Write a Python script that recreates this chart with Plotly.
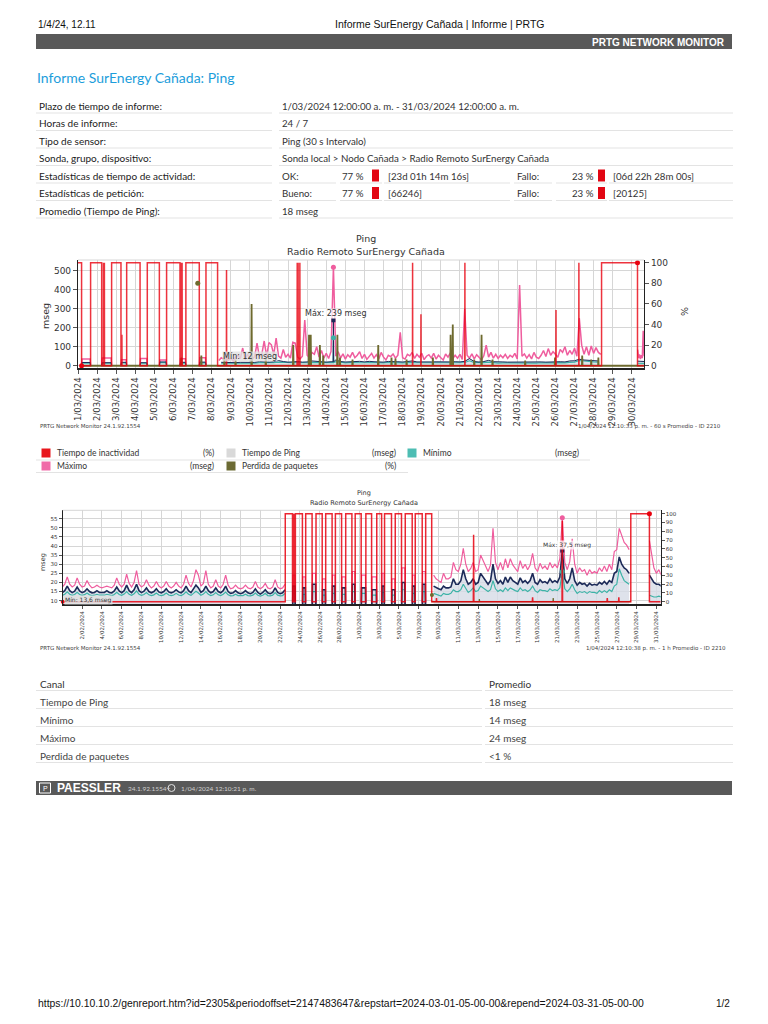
import pandas as pd
import plotly.graph_objects as go

W, H = 768, 1024
def X(px): return px / W
def Y(py): return 1 - py / H

F_UI = "Lato"
F_CH = "DejaVu Sans"
F_AR = "Liberation Sans"
C_RED = "#e8000e"
C_PINK = "#ef5d9e"
C_NAVY = "#1c2a58"
C_TEAL = "#3db3a7"
C_OLIVE = "#6e6a2e"
C_FILL = "rgba(214,219,230,0.8)"

# ---------------- DATA ----------------
# downtime intervals (Tiempo de inactividad = 100 %)
down_start = ["2024-02-22 12:30", "2024-02-23 13:00", "2024-02-24 14:00", "2024-02-25 15:00",
              "2024-02-26 14:30", "2024-02-27 14:00", "2024-02-28 15:00", "2024-02-29 14:00",
              "2024-03-01 15:50", "2024-03-02 18:15", "2024-03-03 13:10", "2024-03-04 15:05",
              "2024-03-05 15:20", "2024-03-06 15:35", "2024-03-07 16:50", "2024-03-28 10:00"]
down_end = ["2024-02-23 06:00", "2024-02-24 06:00", "2024-02-25 05:30", "2024-02-26 06:00",
            "2024-02-27 06:00", "2024-02-28 05:00", "2024-02-29 06:00", "2024-03-01 04:30",
            "2024-03-02 05:45", "2024-03-03 06:00", "2024-03-04 06:00", "2024-03-05 06:15",
            "2024-03-06 08:10", "2024-03-07 08:25", "2024-03-08 07:25", "2024-03-30 07:10"]

# short downtime spikes
c1_red_spike_t = ["2024-03-02 08:00", "2024-03-02 09:10", "2024-03-03 07:10", "2024-03-06 09:20",
                  "2024-03-06 10:50", "2024-03-08 18:40", "2024-03-12 11:30", "2024-03-12 12:40",
                  "2024-03-12 14:50", "2024-03-18 12:30", "2024-03-18 23:00", "2024-03-21 06:15",
                  "2024-03-26 00:45", "2024-03-27 05:30"]
c1_red_spike_v = [100, 100, 30, 100, 100, 93, 100, 100, 100, 100, 50, 100, 54, 100]
c2_red_spike_t = ["2024-02-23 08:00", "2024-02-23 10:00", "2024-03-08 19:00", "2024-03-12 13:00",
                  "2024-03-18 12:00", "2024-03-21 12:00", "2024-03-26 01:00", "2024-03-27 05:00"]
c2_red_spike_v = [100, 100, 4, 76, 5, 92, 4, 5]

# 1 h chart, continuous part in February (6 h samples)
feb_start = "2024-01-30 18:00"
feb_max = [18.0,
           17.5, 19.0, 23.0, 19.0, 17.5, 18.5, 22.5, 19.0, 17.5, 18.0, 21.0, 18.5,
           17.0, 17.5, 18.5, 17.5, 17.0, 17.5, 18.0, 17.5, 17.0, 18.5, 22.5, 19.0,
           17.5, 19.0, 24.5, 19.5, 17.5, 20.0, 26.5, 19.0, 17.5, 18.5, 21.5, 18.5,
           17.0, 18.0, 20.5, 18.0, 17.0, 18.0, 20.5, 18.0, 17.0, 18.0, 20.0, 18.0,
           17.0, 19.0, 24.0, 19.5, 17.5, 21.0, 27.0, 24.0, 18.0, 19.5, 26.5, 19.0,
           17.0, 18.0, 21.5, 18.0, 17.0, 19.0, 24.0, 18.5, 16.5, 17.0, 18.5, 17.0,
           16.5, 17.0, 18.5, 17.0, 16.5, 17.5, 20.5, 17.5, 16.5, 17.5, 19.5, 17.0,
           16.5, 17.5, 21.5, 17.5, 16.5, 17.0, 19.0]
feb_ping = [14.6,
            14.4, 15.5, 18.0, 15.5, 14.4, 15.2, 17.5, 15.3, 14.4, 15.0, 16.5, 15.0,
            14.3, 14.5, 15.5, 14.5, 14.3, 14.5, 15.5, 14.5, 14.3, 15.3, 17.5, 15.3,
            14.4, 15.5, 18.5, 15.5, 14.4, 16.0, 19.0, 15.5, 14.4, 15.2, 17.0, 15.0,
            14.3, 15.0, 16.5, 14.8, 14.3, 15.0, 16.5, 14.8, 14.3, 14.8, 16.0, 14.8,
            14.3, 15.5, 18.0, 15.5, 14.4, 16.5, 18.5, 17.0, 14.6, 15.5, 18.0, 15.5,
            14.3, 15.0, 17.0, 15.0, 14.3, 15.5, 18.0, 15.0, 14.0, 14.3, 15.5, 14.3,
            13.8, 14.3, 15.5, 14.3, 13.8, 14.5, 16.5, 14.5, 13.6, 14.5, 16.0, 14.3,
            13.8, 14.5, 17.0, 14.5, 13.8, 14.3, 16.0]
feb_min = [13.0,
           12.9, 13.5, 14.8, 13.5, 12.9, 13.4, 14.6, 13.4, 12.9, 13.3, 14.2, 13.2,
           12.8, 13.0, 13.5, 13.0, 12.8, 13.0, 13.5, 13.0, 12.8, 13.4, 14.6, 13.4,
           12.9, 13.6, 15.0, 13.5, 12.9, 13.8, 15.3, 13.5, 12.9, 13.4, 14.4, 13.2,
           12.8, 13.2, 14.2, 13.1, 12.8, 13.2, 14.2, 13.1, 12.8, 13.1, 14.0, 13.1,
           12.8, 13.5, 14.8, 13.5, 12.9, 14.0, 15.2, 14.2, 13.0, 13.6, 15.0, 13.5,
           12.8, 13.2, 14.4, 13.2, 12.8, 13.5, 14.7, 13.2, 12.6, 12.8, 13.5, 12.8,
           12.6, 12.8, 13.5, 12.8, 12.6, 13.0, 14.2, 13.0, 12.5, 13.0, 14.0, 12.8,
           12.6, 13.0, 14.4, 13.0, 12.6, 12.8, 14.0]

# 1 h chart, continuous part in March (6 h samples)
mar_start = "2024-03-08 12:00"
mar_max = [24, 22,
           21, 20, 25, 22, 22, 23, 31, 27, 26, 30, 38.7, 30, 26, 27.7, 31, 26,
           27, 35, 32, 29, 26, 29.6, 49.7, 31, 27, 31, 26.8, 33, 28, 33, 29.6, 27.7,
           26, 32, 27.7, 30, 27, 29.6, 36, 28, 26, 30.5, 27.7, 29, 27, 31, 28, 30,
           28, 33, 55.5, 31, 27, 31.4, 44, 30, 25, 28, 26, 27, 24, 27, 25, 26,
           25, 28, 26, 29, 26, 30, 27, 36.9, 38, 49.7, 46, 42,
           40.5, 38]
mar_ping = [18, 17,
            16.5, 16, 18, 17, 17, 17.5, 22, 19, 19, 21, 27, 22, 19, 20, 22, 19,
            20, 25, 23, 21, 19, 21, 30, 22, 19.5, 21, 19, 23, 20, 23, 21, 20,
            19, 22.5, 20, 21, 19.5, 21, 25, 20, 19, 21.5, 20, 20.5, 19.5, 22, 20, 21,
            20, 23, 37.5, 22, 19.5, 22, 28, 21, 18.5, 20, 19, 19.5, 18, 19.5, 18.5, 19,
            18.5, 20, 19, 20.5, 19, 21, 20, 25, 26, 34, 30, 28,
            27, 25]
mar_min = [14, 13.5,
           13, 12.5, 14, 13.5, 13.5, 14, 16, 15, 15, 16, 19, 17, 14.5, 15.5, 17, 15,
           15.5, 18, 17, 16, 15, 16, 21, 16.5, 15, 16, 15, 17, 15.5, 17, 16, 15.5,
           15, 17, 15.5, 16, 15, 16, 18, 15.5, 14.5, 16, 15.5, 15.5, 15, 16.5, 15.5, 16,
           15.5, 17, 25.9, 16.5, 15, 16.5, 19, 16, 14, 15, 14.5, 15, 14, 15, 14.5, 14.5,
           14, 15.5, 14.5, 15.5, 14.5, 16, 15, 18, 19, 27.5, 24, 21,
           20, 19]

# after the long outage
end_t = ["2024-03-30 07:10", "2024-03-30 12:00", "2024-03-30 18:00",
         "2024-03-31 00:00", "2024-03-31 06:00", "2024-03-31 12:00"]
end_max = [43, 35, 28, 25, 27, 24]
end_ping = [24, 22, 20, 19, 19, 18]
end_min = [13, 12.5, 12, 12, 12.5, 12]

# values during the short daily up-windows (23/02 .. 7/03)
win_max = [24, 23, 25, 22, 24, 23, 26, 24, 23, 25, 22, 28, 24, 26]
win_ping = [18, 17, 19, 16, 18, 17, 19, 17, 16, 18, 16, 20, 18, 19]
win_min = [14, 13.5, 15, 13, 14, 13.5, 15, 14, 13, 14.5, 13, 16, 14, 15]
c1_win_max = [35, 40, 32, 38, 30, 36, 42]   # 60 s chart, windows 1/03 .. 7/03

# 60 s chart: Máximo (3 h samples)
c1_max_start = "2024-03-08 09:00"
c1_max = [28, 42, 35, 50, 30, 38, 26, 45,
          55, 38, 93, 32, 60, 40, 35, 48,
          119, 45, 60, 130, 50, 122, 110, 58,
          145, 50, 40, 85, 45, 60, 40, 123,
          119, 45, 35, 50, 240, 55, 40, 70,
          60, 100, 45, 80, 40, 65, 38, 75,
          518, 50, 74, 40, 62, 35, 58, 45,
          70, 42, 55, 74, 38, 60, 33, 50,
          65, 40, 58, 36, 70, 45, 30, 55,
          48, 62, 40, 55, 176, 42, 35, 60,
          52, 70, 38, 60, 45, 66, 32, 50,
          58, 40, 65, 35, 55, 42, 30, 62,
          45, 68, 38, 55, 40, 60, 33, 300,
          55, 40, 62, 36, 58, 44, 30, 52,
          108, 45, 70, 40, 60, 38, 55, 42,
          60, 38, 55, 45, 65, 35, 425, 50,
          62, 40, 58, 36, 70, 45, 38, 55,
          80, 48, 90, 55, 74, 60, 45, 85,
          70, 100, 55, 80, 60, 92, 50, 250,
          108, 60, 100, 55, 104, 65, 95, 70,
          60]
c1_end_t = ["2024-03-30 07:20", "2024-03-30 08:30", "2024-03-30 09:40", "2024-03-30 10:50",
            "2024-03-30 12:00", "2024-03-30 13:10", "2024-03-30 14:20", "2024-03-30 15:30"]
c1_end_max = [85, 40, 60, 35, 55, 40, 184, 50]

# peaks (Máx markers)
c1_peak_t = "2024-03-14 09:00"
c1_peak_max, c1_peak_ping, c1_peak_min = 518, 239, 147
c1_peak_ping_base, c1_peak_min_base = 21, 16
c2_peak_t = "2024-03-21 12:00"
c2_peak_max, c2_peak_ping, c2_peak_min = 55.5, 37.5, 25.9

# packet loss (%)
c1_loss_t = ["2024-03-06 10:00", "2024-03-07 11:00", "2024-03-08 16:00", "2024-03-09 06:00",
             "2024-03-10 02:10", "2024-03-10 20:00", "2024-03-12 06:30", "2024-03-13 02:20",
             "2024-03-13 04:30", "2024-03-13 16:00", "2024-03-13 20:10", "2024-03-14 14:00",
             "2024-03-14 17:15", "2024-03-15 09:00", "2024-03-16 17:20", "2024-03-17 10:00",
             "2024-03-17 15:00", "2024-03-18 05:00", "2024-03-19 14:00", "2024-03-20 12:15",
             "2024-03-20 15:00", "2024-03-21 18:00", "2024-03-22 03:10", "2024-03-22 17:00",
             "2024-03-24 10:00", "2024-03-25 23:30", "2024-03-27 09:40", "2024-03-27 21:00",
             "2024-03-28 06:00"]
c1_loss_v = [8, 10, 9, 6, 60, 8, 20, 30, 30, 20, 10, 30, 8, 6, 20, 8, 7, 6, 8, 30, 40, 6, 30,
             6, 5, 8, 10, 6, 8]
c1_loss_dot = ("2024-03-07 06:30", 80)
c2_loss_t = ["2024-03-13 03:00", "2024-03-20 14:00"]
c2_loss_v = [3, 4]
c2_loss_dot = ("2024-03-08 08:00", 7.6)

# axis ranges
c1_x = ["2024-03-01 00:00", "2024-03-30 15:20"]
c2_x = ["2024-01-31 01:00", "2024-03-31 10:30"]

# text content
info_labels = ["Plazo de tiempo de informe:", "Horas de informe:", "Tipo de sensor:",
               "Sonda, grupo, dispositivo:", "Estadísticas de tiempo de actividad:",
               "Estadísticas de petición:", "Promedio (Tiempo de Ping):"]
info_values = ["1/03/2024 12:00:00 a. m. - 31/03/2024 12:00:00 a. m.", "24 / 7",
               "Ping (30 s Intervalo)",
               "Sonda local &gt; Nodo Cañada &gt; Radio Remoto SurEnergy Cañada",
               None, None, "18 mseg"]
stat_rows = [["OK:", "77 %", "[23d 01h 14m 16s]", "Fallo:", "23 %", "[06d 22h 28m 00s]"],
             ["Bueno:", "77 %", "[66246]", "Fallo:", "23 %", "[20125]"]]
chan_names = ["Tiempo de Ping", "Mínimo", "Máximo", "Perdida de paquetes"]
chan_avgs = ["18 mseg", "14 mseg", "24 mseg", "&lt;1 %"]

# ---------------- HELPERS ----------------
def T(s): return pd.Timestamp(s)
def iso(t): return None if t is None else T(t).strftime("%Y-%m-%d %H:%M:%S")
MINUTE = pd.Timedelta(minutes=1)

def regular(start, vals, freq):
    return list(pd.date_range(start, periods=len(vals), freq=freq)), list(vals)

def red_series(spike_t, spike_v, eps, t0, t1):
    ev = []
    if t0 is not None:
        ev.append((T(t0), 0))
    for s, e in zip(down_start, down_end):
        ev += [(T(s), 0), (T(s), 100), (T(e), 100), (T(e), 0)]
    for t, v in zip(spike_t, spike_v):
        ev += [(T(t) - eps, 0), (T(t), v), (T(t) + eps, 0)]
    ev.append((T(t1), 0))
    ev.sort(key=lambda p: p[0])
    return [iso(p[0]) for p in ev], [p[1] for p in ev]

def spikes(times, vals, eps, t0, t1):
    ev = [(T(t0), 0)]
    for t, v in zip(times, vals):
        ev += [(T(t) - eps, 0), (T(t), v), (T(t) + eps, 0)]
    ev.append((T(t1), 0))
    ev.sort(key=lambda p: p[0])
    return [iso(p[0]) for p in ev], [p[1] for p in ev]

def windows(vals, idx, pad):
    xs, ys = [], []
    for i, v in zip(idx, vals):
        s, e = T(down_end[i]), T(down_start[i + 1])
        xs += [s, s + pad, e - pad, e, None]
        ys += [0, v, v, 0, None]
    return xs, ys

def with_peak(xs, ys, t, v, base, eps):
    pts = list(zip(xs, ys)) + [(T(t) - eps, base), (T(t), v), (T(t) + eps, base)]
    pts.sort(key=lambda p: p[0])
    return [p[0] for p in pts], [p[1] for p in pts]

def join(*parts):
    xs, ys = [], []
    for px_, py_ in parts:
        if xs:
            xs.append(None); ys.append(None)
        xs += [iso(t) if t is not None else None for t in px_]
        ys += list(py_)
    return xs, ys

def segments(series):
    segs, cx, cy = [], [], []
    for x, y in zip(*series):
        if x is None or y is None:
            if cx:
                segs.append((cx, cy))
            cx, cy = [], []
        else:
            cx.append(x); cy.append(y)
    if cx:
        segs.append((cx, cy))
    return segs

# ---------------- SERIES ----------------
W1 = list(range(7, 14))
W2 = list(range(0, 14))
pad1 = 40 * MINUTE
pad2 = 60 * MINUTE

# chart 1 (60 s average)
c1_pink = join(windows(c1_win_max, W1, pad1), regular(c1_max_start, c1_max, "3h"),
               (c1_end_t, c1_end_max))
mx, my = regular(mar_start, mar_ping, "6h")
c1_navy = join(windows(win_ping[7:], W1, pad1),
               with_peak(mx, my, c1_peak_t, c1_peak_ping, c1_peak_ping_base, 20 * MINUTE),
               (end_t, end_ping))
nx, ny = regular(mar_start, mar_min, "6h")
c1_teal = join(windows(win_min[7:], W1, pad1),
               with_peak(nx, ny, c1_peak_t, c1_peak_min, c1_peak_min_base, 20 * MINUTE),
               (end_t, end_min))
c1_red = red_series(c1_red_spike_t, c1_red_spike_v, 10 * MINUTE, None, c1_x[1])
c1_olive = spikes(c1_loss_t, c1_loss_v, 25 * MINUTE, "2024-03-01 04:30", c1_x[1])

# chart 2 (1 h average)
c2_pink = join(regular(feb_start, feb_max, "6h"), windows(win_max, W2, pad2),
               regular(mar_start, mar_max, "6h"), (end_t, end_max))
c2_navy = join(regular(feb_start, feb_ping, "6h"), windows(win_ping, W2, pad2),
               regular(mar_start, mar_ping, "6h"), (end_t, end_ping))
c2_teal = join(regular(feb_start, feb_min, "6h"), windows(win_min, W2, pad2),
               regular(mar_start, mar_min, "6h"), (end_t, end_min))
c2_red = red_series(c2_red_spike_t, c2_red_spike_v, 40 * MINUTE, c2_x[0], c2_x[1])
c2_olive = spikes(c2_loss_t, c2_loss_v, 40 * MINUTE, "2024-03-08 07:25", "2024-03-28 10:00")

fig = go.Figure()

def add(series, xa, ya, color, width):
    fig.add_trace(go.Scatter(x=series[0], y=series[1], xaxis=xa, yaxis=ya, mode="lines",
                             line=dict(color=color, width=width), connectgaps=False,
                             hoverinfo="skip", showlegend=False))

def add_fill(series, xa, ya):
    for sx, sy in segments(series):
        fig.add_trace(go.Scatter(x=sx, y=sy, xaxis=xa, yaxis=ya, mode="lines",
                                 line=dict(width=0, color="rgba(0,0,0,0)"), fill="tozeroy",
                                 fillcolor=C_FILL, hoverinfo="skip", showlegend=False))

def marker(t, v, xa, ya, color, symbol="circle", size=5):
    fig.add_trace(go.Scatter(x=[iso(t)], y=[v], xaxis=xa, yaxis=ya, mode="markers",
                             marker=dict(color=color, size=size, symbol=symbol),
                             cliponaxis=False, hoverinfo="skip", showlegend=False))

# chart 1 traces
add_fill(c1_navy, "x", "y")
add(c1_pink, "x", "y", C_PINK, 1.5)
add(c1_teal, "x", "y", C_TEAL, 1.2)
add(c1_navy, "x", "y", C_NAVY, 1.0)
add(c1_olive, "x", "y2", C_OLIVE, 1.8)
add(c1_red, "x", "y2", "rgba(232,0,14,0.8)", 1.5)
marker(c1_peak_t, c1_peak_max, "x", "y", C_PINK)
marker(c1_peak_t, c1_peak_ping, "x", "y", C_NAVY, "square", 4)
marker(c1_peak_t, c1_peak_min, "x", "y", C_TEAL)
marker(c1_loss_dot[0], c1_loss_dot[1], "x", "y2", C_OLIVE)
marker(down_end[7], 0, "x", "y2", C_RED)
marker(down_end[-1], 100, "x", "y2", C_RED)

# chart 2 traces
add_fill(c2_navy, "x2", "y3")
add(c2_pink, "x2", "y3", C_PINK, 1.2)
add(c2_teal, "x2", "y3", C_TEAL, 1.2)
add(c2_navy, "x2", "y3", C_NAVY, 1.6)
add(c2_olive, "x2", "y4", C_OLIVE, 1.2)
add(c2_red, "x2", "y4", "rgba(232,0,14,0.85)", 1.5)
marker(c2_peak_t, c2_peak_max, "x2", "y3", C_PINK)
marker(c2_peak_t, c2_peak_ping, "x2", "y3", C_NAVY, "square", 4)
marker(c2_peak_t, c2_peak_min, "x2", "y3", C_TEAL)
marker(c2_loss_dot[0], c2_loss_dot[1], "x2", "y4", C_OLIVE, size=4)
marker(c2_x[0], 0, "x2", "y4", C_RED, size=4)
marker(down_end[-1], 100, "x2", "y4", C_RED)

# ---------------- LAYOUT ----------------
ax_common = dict(showline=True, linecolor="#222", ticks="outside", tickcolor="#555",
                 zeroline=False, automargin=False, fixedrange=True)
tick1 = dict(size=8.5, family=F_CH, color="#333")
tick2 = dict(size=5.5, family=F_CH, color="#333")

fig.update_layout(
    width=W, height=H, margin=dict(l=0, r=0, t=0, b=0), template="none",
    paper_bgcolor="white", plot_bgcolor="white", showlegend=False,
    xaxis=dict(domain=[X(78), X(644)], anchor="y", type="date", range=c1_x,
               tickformat="%-d/%m/%Y", dtick=86400000, tick0="2024-03-01", tickangle=-90,
               tickfont=tick1, showgrid=True, gridcolor="#d6d6d6", linewidth=2, ticklen=4,
               **ax_common),
    yaxis=dict(domain=[Y(368), Y(260)], anchor="x", range=[-12, 556],
               tickvals=[0, 100, 200, 300, 400, 500], tickfont=dict(size=9, family=F_CH, color="#333"),
               showgrid=True, gridcolor="#d6d6d6", linewidth=1.2, ticklen=4, **ax_common),
    yaxis2=dict(overlaying="y", anchor="x", side="right", range=[-2.2, 102.6],
                tickvals=[0, 20, 40, 60, 80, 100], tickfont=dict(size=9, family=F_CH, color="#333"),
                showgrid=False, linewidth=1.2, ticklen=4, **ax_common),
    xaxis2=dict(domain=[X(62.7), X(660.7)], anchor="y3", type="date", range=c2_x,
                tickformat="%-d/%m/%Y", dtick=2 * 86400000, tick0="2024-02-02", tickangle=-90,
                tickfont=tick2, showgrid=True, gridcolor="#d6d6d6", linewidth=1.5, ticklen=3,
                **ax_common),
    yaxis3=dict(domain=[Y(604.3), Y(510.3)], anchor="x2", range=[8.0, 59.6],
                tickvals=[10, 15, 20, 25, 30, 35, 40, 45, 50, 55], tickfont=tick2,
                showgrid=True, gridcolor="#d6d6d6", linewidth=1, ticklen=3, **ax_common),
    yaxis4=dict(overlaying="y3", anchor="x2", side="right", range=[-3, 103.9],
                tickvals=list(range(0, 101, 10)), tickfont=tick2, showgrid=False,
                linewidth=1, ticklen=3, **ax_common),
)

ann, shp = [], []

def txt(x, y, s, size, color="#333", family=F_UI, anchor="left", angle=0, bg=None):
    d = dict(x=X(x), y=Y(y), xref="paper", yref="paper", text=s, showarrow=False,
             xanchor=anchor, yanchor="middle", textangle=angle,
             font=dict(size=size, color=color, family=family))
    if bg:
        d.update(bgcolor=bg, borderpad=0)
    ann.append(d)

def rect(x0, y0, x1, y1, fill, line=None):
    shp.append(dict(type="rect", xref="paper", yref="paper", x0=X(x0), x1=X(x1),
                    y0=Y(y1), y1=Y(y0), fillcolor=fill,
                    line=dict(width=1 if line else 0, color=line or fill)))

def hline(x0, x1, y, color="#e3e3e3", w=1):
    shp.append(dict(type="line", xref="paper", yref="paper", x0=X(x0), x1=X(x1),
                    y0=Y(y), y1=Y(y), line=dict(color=color, width=w)))

# page header
txt(36, 24, "1/4/24, 12.11", 10, "#111", F_AR)
txt(440, 24, "Informe SurEnergy Cañada | Informe | PRTG", 10.5, "#111", F_AR, "center")
rect(36, 34, 732, 49, "#595959")
txt(727, 42, "<b>PRTG NETWORK MONITOR</b>", 10, "white", F_AR, "right")
txt(35, 77, "Informe SurEnergy Cañada: Ping", 14, "#1c9ddb", F_UI)

# info table
row_y = [105.5, 123, 140.5, 158, 175.5, 193, 210.5]
for i, (lab, val) in enumerate(zip(info_labels, info_values)):
    y = row_y[i]
    txt(37, y, lab, 10, "#222", F_UI)
    hline(36, 272, y + 7.5)
    if val is not None:
        txt(280, y, val, 9.7, "#333", F_UI)
        hline(279, 733, y + 7.5)
for r, row in enumerate(stat_rows):
    y = row_y[4 + r]
    txt(280, y, row[0], 9.7, "#333")
    txt(366, y, row[1], 9.7, "#333", anchor="right")
    rect(372, y - 6, 379, y + 6, "#e20613")
    txt(386, y, row[2], 9.7, "#333")
    txt(515, y, row[3], 9.7, "#333")
    txt(596, y, row[4], 9.7, "#333", anchor="right")
    rect(598, y - 6, 605, y + 6, "#e20613")
    txt(611, y, row[5], 9.7, "#333")
    for a, b in [(279, 336), (340, 382), (384, 510), (514, 552), (556, 607), (609, 733)]:
        hline(a, b, y + 7.5)

# chart 1 texts
txt(366, 238, "Ping", 9.5, "#333", F_CH, "center")
txt(366, 251, "Radio Remoto SurEnergy Cañada", 9.5, "#333", F_CH, "center")
txt(45, 316, "mseg", 9.5, "#333", F_CH, "center", -90)
txt(684, 312, "%", 9.5, "#333", F_CH, "center", -90)
txt(304, 313.5, "Máx: 239 mseg", 8, "#333", F_CH, bg="rgba(255,255,255,0.75)")
txt(222, 356, "Mín: 12 mseg", 8, "#333", F_CH, bg="rgba(225,225,225,0.8)")
hline(78, 644, 260, "#d6d6d6")
txt(38, 426, "PRTG Network Monitor 24.1.92.1554", 5.5, "#444", F_CH)
txt(723, 426, "1/04/2024 12:10:33 p. m. - 60 s Promedio - ID 2210", 5.5, "#444", F_CH, "right")

# legend block
leg1 = [(46, "#e8161c", "Tiempo de inactividad", 216, "(%)"),
        (231, "#d9d9d9", "Tiempo de Ping", 398, "(mseg)"),
        (412, "#4dbdb3", "Mínimo", 581, "(mseg)")]
leg2 = [(46, "#f06aa8", "Máximo", 216, "(mseg)"),
        (231, "#6b6a33", "Perdida de paquetes", 398, "(%)")]
for yy, items in [(453, leg1), (466, leg2)]:
    for cx, col, lab, ux, unit in items:
        rect(cx - 4.5, yy - 4.5, cx + 4.5, yy + 4.5, col)
        txt(cx + 9, yy, lab, 8.5, "#333")
        txt(ux, yy, unit, 8.5, "#333", anchor="right")
hline(36, 590, 460)
hline(36, 408, 472.5)

# chart 2 texts
txt(364, 493, "Ping", 6.5, "#333", F_CH, "center")
txt(364, 503, "Radio Remoto SurEnergy Cañada", 6.5, "#333", F_CH, "center")
txt(43, 562, "mseg", 6.5, "#333", F_CH, "center", -90)
txt(542, 545, "Máx: 37,5 mseg", 6, "#333", F_CH, bg="rgba(255,255,255,0.75)")
txt(64, 599.5, "Mín: 13,6 mseg", 6, "#333", F_CH, bg="rgba(225,225,225,0.85)")
hline(62.7, 660.7, 510.3, "#d6d6d6")
txt(38, 648, "PRTG Network Monitor 24.1.92.1554", 5.5, "#444", F_CH)
txt(728, 648, "1/04/2024 12:10:38 p. m. - 1 h Promedio - ID 2210", 5.5, "#444", F_CH, "right")

# channel table
txt(38, 683.5, "Canal", 10, "#333")
txt(487, 683.5, "Promedio", 10, "#333")
hline(36, 482, 690.5)
hline(485, 733, 690.5)
for i, (n, a) in enumerate(zip(chan_names, chan_avgs)):
    y = 701.5 + 18 * i
    txt(38, y, n, 10, "#444")
    txt(487, y, a, 10, "#444")
    hline(36, 482, y + 7)
    hline(485, 733, y + 7)

# bottom bar
rect(36, 781, 732, 795, "#595959")
rect(39.5, 783, 50.5, 793, "#595959", "white")
txt(45, 788, "P", 7, "white", F_AR, "center")
txt(55, 788, "<b>PAESSLER</b>", 12, "white", F_AR)
txt(126, 788.5, "24.1.92.1554+", 6.5, "#d0d0d0", F_UI)
shp.append(dict(type="circle", xref="paper", yref="paper", x0=X(168), x1=X(175), y0=Y(791.5),
                y1=Y(784.5), line=dict(color="#e0e0e0", width=1)))
txt(179, 788.5, "1/04/2024 12:10:21 p. m.", 6.5, "#d0d0d0", F_UI)

# page footer
txt(36, 1003, "https://10.10.10.2/genreport.htm?id=2305&amp;periodoffset=2147483647&amp;repstart=2024-03-01-05-00-00&amp;repend=2024-03-31-05-00-00",
    10.4, "#111", F_AR)
txt(732, 1003, "1/2", 10, "#111", F_AR, "right")

fig.update_layout(annotations=ann, shapes=shp)
fig.write_html("out.html", config={"displayModeBar": False},
               post_script="document.body.style.margin='0px';document.body.style.overflow='hidden';")
